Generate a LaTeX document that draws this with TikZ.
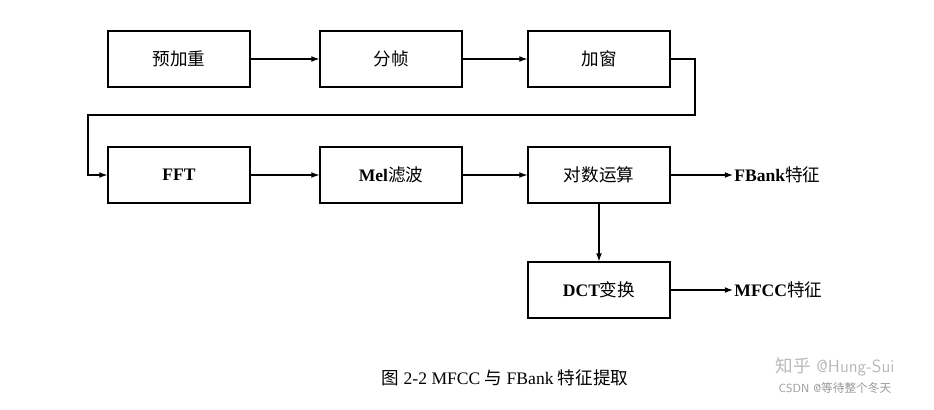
\documentclass[tikz,border=0pt]{standalone}
\usepackage{fontspec}
\usetikzlibrary{arrows.meta}
\setmainfont{Liberation Serif}
\newfontfamily\cjk{Noto Sans CJK SC}
\begin{document}
\begin{tikzpicture}[x=0.03cm,y=-0.03cm,
  box/.style={draw,line width=0.9pt,minimum width=142*0.03cm,minimum height=56*0.03cm,font=\fontsize{15}{17}\selectfont},
  arr/.style={-{Latex[length=7pt,width=5pt]},line width=1pt},
  lab/.style={font=\fontsize{15}{17}\selectfont,anchor=west,inner sep=1pt}]
\useasboundingbox (0,0) rectangle (934,409);
\node[box] (a) at (179,59) {\cjk 预加重};
\node[box] (b) at (391,59) {\cjk 分帧};
\node[box] (c) at (599,59) {\cjk 加窗};
\node[box] (d) at (179,175) {\bfseries FFT};
\node[box] (e) at (391,175) {\bfseries Mel\cjk\mdseries 滤波};
\node[box] (f) at (599,175) {\cjk 对数运算};
\node[box] (g) at (599,290) {\bfseries DCT\cjk\mdseries 变换};
\node[lab] (fb) at (733,175) {\bfseries FBank\cjk\mdseries 特征};
\node[lab] (mf) at (733,290) {\bfseries MFCC\cjk\mdseries 特征};
\draw[arr] (a) -- (b);
\draw[arr] (b) -- (c);
\coordinate (p1) at (695,59);
\coordinate (p2) at (695,115);
\coordinate (p3) at (88,115);
\coordinate (p4) at (88,175);
\draw[arr] (c.east) -- (p1) -- (p2) -- (p3) -- (p4) -- (d.west);
\draw[arr] (d) -- (e);
\draw[arr] (e) -- (f);
\draw[arr] (f) -- (g);
\draw[arr] (f.east) -- (fb.west);
\draw[arr] (g.east) -- (mf.west);
\node[font=\fontsize{15}{17}\selectfont] (cap) at (505,378) {{\cjk 图} 2-2 MFCC {\cjk 与} FBank {\cjk 特征提取}};
\node[font=\fontsize{15}{17}\selectfont\sffamily,text=gray!55] (w1) at (835,367) {{\cjk 知乎} @Hung-Sui};
\node[font=\fontsize{10}{12}\selectfont\sffamily,text=gray!80] (w2) at (835,388) {CSDN @{\cjk 等待整个冬天}};
\end{tikzpicture}
\end{document}
